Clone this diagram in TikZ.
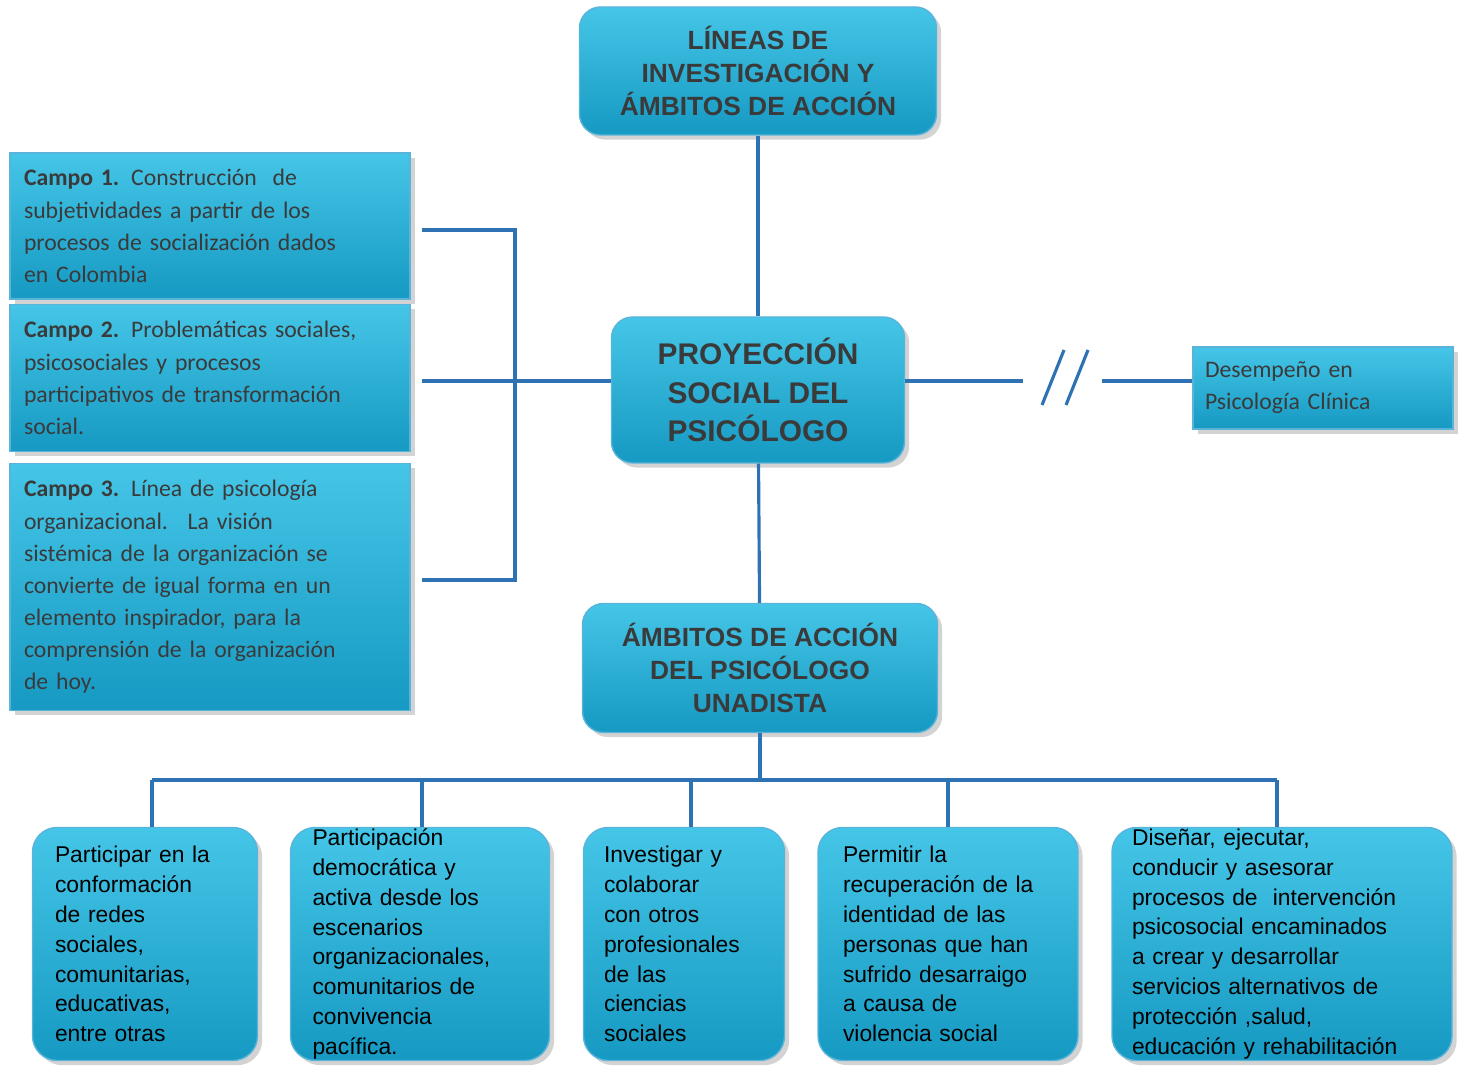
\documentclass[tikz,border=0pt]{standalone}
\usepackage{fontspec}
\setmainfont{Liberation Sans}
\newfontfamily\campofont{Carlito}
\usetikzlibrary{shadows}
\definecolor{boxtop}{HTML}{45C6E8}
\definecolor{boxbot}{HTML}{1699C2}
\definecolor{boxline}{HTML}{5AB4DA}
\definecolor{linkblue}{HTML}{2E72B4}
\definecolor{headtext}{HTML}{3A3A3A}
\tikzstyle{headbox} = [rounded corners=12pt, draw=boxline, thick, top color=boxtop, bottom color=boxbot, drop shadow={opacity=0.35}, align=center, font=\bfseries\fontsize{15}{19}\selectfont, text=headtext]
\tikzstyle{campo} = [rectangle, draw=boxline, thick, top color=boxtop, bottom color=boxbot, drop shadow={opacity=0.35}, align=left, inner sep=0pt, font=\campofont\fontsize{13.5}{18.3}\selectfont, text=headtext]
\tikzstyle{leaf} = [rounded corners=14pt, draw=boxline, thick, top color=boxtop, bottom color=boxbot, drop shadow={opacity=0.35}, align=left, inner sep=0pt, font=\fontsize{13}{17}\selectfont, text=black]
\tikzstyle{link} = [linkblue, line width=1.8pt]

\begin{document}
\begin{tikzpicture}[x=0.02cm, y=-0.02cm]
\useasboundingbox (0,0) rectangle (1463,1077);

% Cajas principales
\node (lineas) [headbox, minimum width=357*0.02cm, minimum height=128*0.02cm] at (758,71) {LÍNEAS DE\\INVESTIGACIÓN Y\\ÁMBITOS DE ACCIÓN};
\node (proy) [headbox, minimum width=293*0.02cm, minimum height=146*0.02cm, font=\bfseries\fontsize{17}{22}\selectfont] at (758,390) {PROYECCIÓN\\SOCIAL DEL\\PSICÓLOGO};
\node (ambitos) [headbox, minimum width=355*0.02cm, minimum height=129*0.02cm] at (760,668) {ÁMBITOS DE ACCIÓN\\DEL PSICÓLOGO\\UNADISTA};

% Campos
\node (campo1) [campo, minimum width=400*0.02cm, minimum height=146*0.02cm, text width=372*0.02cm] at (210,226) {\textbf{Campo 1.} Construcción~ de\\subjetividades a partir de los\\procesos de socialización dados\\en Colombia};
\node (campo2) [campo, minimum width=400*0.02cm, minimum height=147*0.02cm, text width=372*0.02cm] at (210,378) {\textbf{Campo 2.} Problemáticas sociales,\\psicosociales y procesos\\participativos de transformación\\social.};
\node (campo3) [campo, minimum width=400*0.02cm, minimum height=247*0.02cm, text width=372*0.02cm] at (210,587) {\textbf{Campo 3.} Línea de psicología\\organizacional.~ La visión\\sistémica de la organización se\\convierte de igual forma en un\\elemento inspirador, para la\\comprensión de la organización\\de hoy.};
\node (clinica) [campo, minimum width=260*0.02cm, minimum height=82*0.02cm, text width=236*0.02cm] at (1323,388) {Desempeño en\\Psicología Clínica};

% Hojas inferiores
\node (redes) [leaf, minimum width=225*0.02cm, minimum height=233*0.02cm, text width=180*0.02cm] at (145,944) {Participar en la\\conformación\\de redes\\sociales,\\comunitarias,\\educativas,\\entre otras};
\node (democ) [leaf, minimum width=259*0.02cm, minimum height=233*0.02cm, text width=215*0.02cm] at (420,944) {Participación\\democrática y\\activa desde los\\escenarios\\organizacionales,\\comunitarios de\\convivencia\\pacífica.};
\node (investigar) [leaf, minimum width=201*0.02cm, minimum height=233*0.02cm, text width=160*0.02cm] at (684,944) {Investigar y\\colaborar\\con otros\\profesionales\\de las\\ciencias\\sociales};
\node (identidad) [leaf, minimum width=260*0.02cm, minimum height=233*0.02cm, text width=210*0.02cm] at (948,944) {Permitir la\\recuperación de la\\identidad de las\\personas que han\\sufrido desarraigo\\a causa de\\violencia social};
\node (disenar) [leaf, minimum width=340*0.02cm, minimum height=233*0.02cm, text width=300*0.02cm] at (1282,944) {Diseñar, ejecutar,\\conducir y asesorar\\procesos de~ intervención\\psicosocial encaminados\\a crear y desarrollar\\servicios alternativos de\\protección ,salud,\\educación y rehabilitación};

% Conectores
\coordinate (brk) at (515,381);
\draw [link] (lineas) -- (proy);
\draw [link] (proy) -- (ambitos);
\draw [link] (422,230) -| (brk);
\draw [link] (422,580) -| (brk);
\draw [link] (422,381) -- (proy.west |- brk);
\draw [link] (proy.east |- brk) -- (1023,381);
\draw [link] (1102,381) -- (clinica.west |- brk);
\draw [link] (1042,405) -- (1064,350);
\draw [link] (1066,405) -- (1088,350);
\coordinate (bus) at (760,780);
\draw [link] (ambitos) -- (bus);
\draw [link] (152,780) -- (1277,780);
\foreach \leafnode/\xx in {redes/152, democ/422, investigar/691, identidad/948, disenar/1277}
  \draw [link] (\xx,780) -- (\xx,827);

\end{tikzpicture}
\end{document}
